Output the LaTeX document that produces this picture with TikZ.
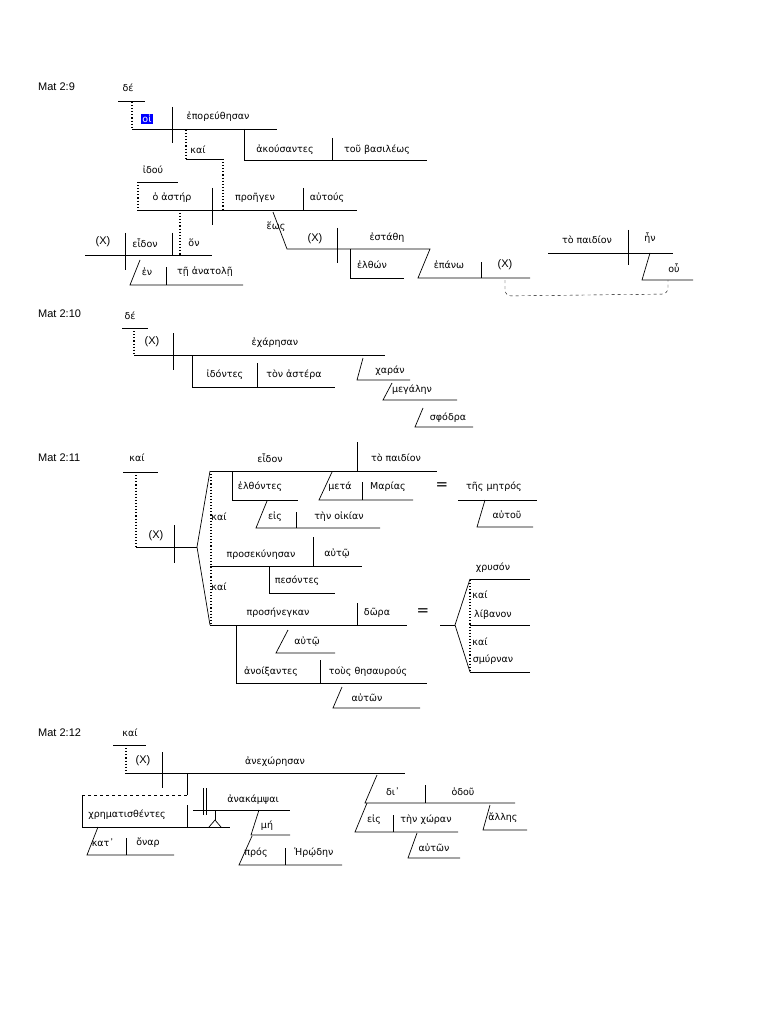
\documentclass[tikz,border=0pt]{standalone}
\usepackage{fontspec}
\setmainfont{DejaVu Sans}
\newfontfamily\labelfont{Liberation Sans}
\tikzstyle{word} = [inner sep=0pt, font=\fontsize{9.5}{11}\selectfont]
\tikzstyle{gap} = [inner sep=0pt, font=\labelfont\fontsize{11}{13}\selectfont]
\tikzstyle{verse} = [inner sep=0pt, anchor=west, font=\labelfont\fontsize{11}{13}\selectfont]
\tikzstyle{rule} = [line width=0.7pt]
\tikzstyle{dots} = [line width=1.1pt, dotted]
\begin{document}
\begin{tikzpicture}[x=1pt, y=-1pt]
\useasboundingbox[fill=white] (0,0) rectangle (768,1024);

% Mat 2:9
\node (v9) [verse] at (38,87) {Mat 2:9};
\node (de9) [word] at (128,88) {δέ};
\node (hoi) [word, fill=blue, text=white, inner sep=1.5pt] at (147,119) {οἱ};
\node (eporeuth) [word] at (218,117) {ἐπορεύθησαν};
\node (kai9) [word] at (198,150) {καί};
\node (akous) [word] at (285,150) {ἀκούσαντες};
\node (basil) [word] at (377,150) {τοῦ βασιλέως};
\node (idou) [word] at (153,170) {ἰδού};
\node (aster) [word] at (172,198) {ὁ ἀστήρ};
\node (proegen) [word] at (255,198) {προῆγεν};
\node (autous) [word] at (327,198) {αὐτούς};
\node (heos) [word] at (276,227) {ἕως};
\node (x9a) [gap] at (315,239) {(X)};
\node (estathe) [word] at (387,238) {ἐστάθη};
\node (elthon) [word] at (372,265) {ἐλθών};
\node (epano) [word] at (449,265) {ἐπάνω};
\node (x9b) [gap] at (505,265) {(X)};
\node (paidion9) [word] at (587,240) {τὸ παιδίον};
\node (en9) [word] at (650,238) {ἦν};
\node (hou) [word] at (674,268) {οὗ};
\node (x9c) [gap] at (103,242) {(X)};
\node (eidon9) [word] at (145,243) {εἶδον};
\node (hon) [word] at (194,243) {ὅν};
\node (en) [word] at (147,272) {ἐν};
\node (anatole) [word] at (205,272) {τῇ ἀνατολῇ};

\draw [rule] (118,101) -- (145,101);
\draw [dots] (132,102) -- (132,129);
\draw [rule] (132,129) -- (277,129);
\draw [rule] (172,107) -- (172,143);
\draw [dots] (186,130) -- (186,159);
\draw [rule] (186,159) -- (223,159);
\draw [dots] (223,159) -- (223,210);
\draw [rule] (244,129) -- (244,160) -- (427,160);
\draw [rule] (332,138) -- (332,160);
\draw [rule] (137,182) -- (178,182);
\draw [dots] (138,182) -- (138,210);
\draw [rule] (137,210) -- (357,210);
\draw [rule] (212,188) -- (212,225);
\draw [rule] (303,188) -- (303,210);
\draw [dots] (180,210) -- (180,255);
\draw [rule] (273,212) -- (287,249) -- (430,249) -- (418,278) -- (530,278);
\draw [rule] (337,228) -- (337,263);
\draw [rule] (350,249) -- (350,278) -- (404,278);
\draw [rule] (481,262) -- (481,278);
\draw [rule] (548,253) -- (673,253);
\draw [rule] (628,230) -- (628,265);
\draw [rule] (650,253) -- (642,280) -- (693,280);
\draw [dashed, rounded corners=6] (505,280) -- (505,296) -- (668,294) -- (668,280);
\draw [rule] (85,255) -- (212,255);
\draw [rule] (125,233) -- (125,270);
\draw [rule] (172,233) -- (172,255);
\draw [rule] (140,260) -- (130,285) -- (243,285);
\draw [rule] (166,267) -- (166,285);

% Mat 2:10
\node (v10) [verse] at (38,314) {Mat 2:10};
\node (de10) [word] at (130,316) {δέ};
\node (x10) [gap] at (152,342) {(X)};
\node (echaresan) [word] at (275,343) {ἐχάρησαν};
\node (idontes) [word] at (225,375) {ἰδόντες};
\node (astera) [word] at (294,375) {τὸν ἀστέρα};
\node (charan) [word] at (390,371) {χαράν};
\node (megalen) [word] at (412,390) {μεγάλην};
\node (sphodra) [word] at (448,418) {σφόδρα};

\draw [rule] (122,328) -- (148,328);
\draw [dots] (134,328) -- (134,355);
\draw [rule] (134,355) -- (385,355);
\draw [rule] (173,333) -- (173,370);
\draw [rule] (192,355) -- (192,387) -- (335,387);
\draw [rule] (257,363) -- (257,387);
\draw [rule] (363,358) -- (357,380) -- (410,380);
\draw [rule] (392,383) -- (383,400) -- (457,400);
\draw [rule] (423,408) -- (415,427) -- (473,427);

% Mat 2:11
\node (v11) [verse] at (38,458) {Mat 2:11};
\node (kai11) [word] at (137,458) {καί};
\node (x11) [gap] at (156,536) {(X)};
\node (eidon11) [word] at (270,458) {εἶδον};
\node (paidion11) [word] at (396,458) {τὸ παιδίον};
\node (elthontes) [word] at (260,487) {ἐλθόντες};
\node (meta) [word] at (340,487) {μετά};
\node (marias) [word] at (388,487) {Μαρίας};
\node (eqa) [word, font=\fontsize{15}{15}\selectfont] at (442,486) {=};
\node (metros) [word] at (494,487) {τῆς μητρός};
\node (autou) [word] at (507,515) {αὐτοῦ};
\node (eis11) [word] at (275,517) {εἰς};
\node (oikian) [word] at (339,517) {τὴν οἰκίαν};
\node (kai11a) [word] at (219,517) {καί};
\node (prosekyn) [word] at (261,555) {προσεκύνησαν};
\node (auto11a) [word] at (337,554) {αὐτῷ};
\node (pesontes) [word] at (297,581) {πεσόντες};
\node (kai11b) [word] at (219,587) {καί};
\node (prosenenk) [word] at (278,613) {προσήνεγκαν};
\node (dora) [word] at (377,613) {δῶρα};
\node (eqb) [word, font=\fontsize{15}{15}\selectfont] at (423,612) {=};
\node (auto11b) [word] at (307,642) {αὐτῷ};
\node (anoixantes) [word] at (271,672) {ἀνοίξαντες};
\node (thesaurous) [word] at (368,672) {τοὺς θησαυρούς};
\node (auton11) [word] at (367,698) {αὐτῶν};
\node (chryson) [word] at (493,568) {χρυσόν};
\node (kai11c) [word] at (480,595) {καί};
\node (libanon) [word] at (493,615) {λίβανον};
\node (kai11d) [word] at (480,642) {καί};
\node (smyrnan) [word] at (493,660) {σμύρναν};

\draw [rule] (123,472) -- (158,472);
\draw [dots] (136,472) -- (136,547);
\draw [rule] (136,547) -- (197,547);
\draw [rule] (174,525) -- (174,563);
\draw [rule] (210,471) -- (197,547) -- (210,625);
\draw [dots] (211,471) -- (211,625);
\draw [rule] (210,471) -- (437,471);
\draw [rule] (357,442) -- (357,471);
\draw [rule] (232,471) -- (232,500) -- (298,500);
\draw [rule] (332,472) -- (319,500) -- (413,500);
\draw [rule] (362,482) -- (362,500);
\draw [rule] (458,500) -- (537,500);
\draw [rule] (485,500) -- (477,527) -- (533,527);
\draw [rule] (267,501) -- (256,528) -- (380,528);
\draw [rule] (296,512) -- (296,528);
\draw [rule] (210,566) -- (362,566);
\draw [rule] (313,537) -- (313,566);
\draw [rule] (269,566) -- (269,593) -- (335,593);
\draw [rule] (210,625) -- (407,625);
\draw [rule] (357,603) -- (357,625);
\draw [rule] (288,630) -- (276,653) -- (335,653);
\draw [rule] (236,625) -- (236,683) -- (427,683);
\draw [rule] (320,660) -- (320,683);
\draw [rule] (342,687) -- (333,708) -- (420,708);
\draw [rule] (440,625) -- (455,625);
\draw [rule] (470,579) -- (455,625) -- (470,672);
\draw [dots] (470,580) -- (470,672);
\draw [rule] (470,579) -- (530,579);
\draw [rule] (470,625) -- (530,625);
\draw [rule] (470,672) -- (530,672);

% Mat 2:12
\node (v12) [verse] at (38,733) {Mat 2:12};
\node (kai12) [word] at (130,733) {καί};
\node (x12) [gap] at (143,761) {(X)};
\node (anechor) [word] at (275,762) {ἀνεχώρησαν};
\node (chremat) [word] at (127,815) {χρηματισθέντες};
\node (anakamp) [word] at (253,800) {ἀνακάμψαι};
\node (kat) [word] at (103,843) {κατ᾽};
\node (onar) [word] at (148,843) {ὄναρ};
\node (me) [word] at (267,826) {μή};
\node (pros) [word] at (256,853) {πρός};
\node (herod) [word] at (314,853) {Ἡρῴδην};
\node (di) [word] at (393,792) {δι᾽};
\node (hodou) [word] at (463,792) {ὁδοῦ};
\node (eis12) [word] at (374,820) {εἰς};
\node (choran) [word] at (426,820) {τὴν χώραν};
\node (auton12) [word] at (434,848) {αὐτῶν};
\node (alles) [word] at (503,818) {ἄλλης};

\draw [rule] (113,745) -- (146,745);
\draw [dots] (126,745) -- (126,773);
\draw [rule] (126,773) -- (405,773);
\draw [rule] (162,752) -- (162,788);
\draw [rule] (187,773) -- (187,795);
\draw [dashed] (187,795) -- (82,795);
\draw [rule] (82,795) -- (82,827) -- (230,827);
\draw [rule] (187,805) -- (187,827);
\draw [rule] (203,788) -- (203,815);
\draw [rule] (206,788) -- (206,815);
\draw [rule] (193,810) -- (290,810);
\draw [rule] (215,810) -- (215,820);
\draw [rule] (209,827) -- (215,820) -- (221,827);
\draw [rule] (98,827) -- (87,855) -- (174,855);
\draw [rule] (126,838) -- (126,855);
\draw [rule] (259,810) -- (251,835) -- (290,835);
\draw [rule] (252,836) -- (239,865) -- (342,865);
\draw [rule] (285,848) -- (285,865);
\draw [rule] (377,775) -- (365,803) -- (515,803);
\draw [rule] (425,785) -- (425,803);
\draw [rule] (367,803) -- (355,832) -- (458,832);
\draw [rule] (393,815) -- (393,832);
\draw [rule] (417,833) -- (408,858) -- (460,858);
\draw [rule] (490,805) -- (483,830) -- (527,830);
\end{tikzpicture}
\end{document}
